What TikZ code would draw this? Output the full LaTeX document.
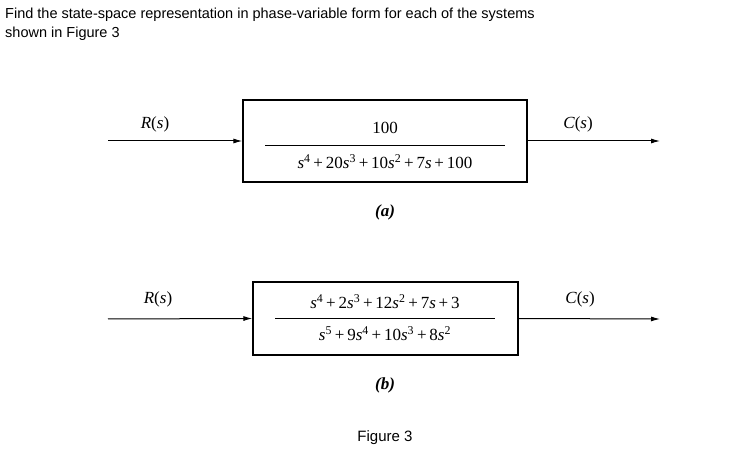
\documentclass[tikz,border=0pt]{standalone}
\usetikzlibrary{arrows.meta}
\usepackage{fontspec}
\setmainfont{Liberation Serif}
\newfontfamily\hdr{Liberation Sans}
\begin{document}
\begin{tikzpicture}[x=1pt,y=-1pt,
  blk/.style={draw,line width=1.2pt},
  sig/.style={line width=1pt,-{Latex[length=9pt,width=5pt]}},
  lbl/.style={font=\fontsize{17}{20}\selectfont},
  frac/.style={font=\fontsize{17}{20}\selectfont},
  figlabel/.style={font=\fontsize{17}{20}\selectfont\bfseries\itshape}]
\useasboundingbox (0,0) rectangle (748,454);
\node[anchor=north west,align=left,font=\hdr\fontsize{14.5}{19}\selectfont,inner sep=0] (hd) at (5,8) {Find the state-space representation in phase-variable form for each of the systems\\shown in Figure 3};
% (a)
\node[blk,minimum width=284pt,minimum height=82pt] (ba) at (385,141) {};
\coordinate (ia) at (108,141); \coordinate (oa) at (660,141);
\draw[sig] (ia) -- (ba.west);
\draw[sig] (ba.east) -- (oa);
\node[lbl] (ra) at (155,124) {\textit{R}(\textit{s})};
\node[lbl] (ca) at (578,124) {\textit{C}(\textit{s})};
\node[frac] (na) at (385,128) {100};
\draw[line width=0.8pt] (265,145) -- (505,145);
\node[frac] (da) at (385,162) {\textit{s}\textsuperscript{4}\,+\,20\textit{s}\textsuperscript{3}\,+\,10\textit{s}\textsuperscript{2}\,+\,7\textit{s}\,+\,100};
\node[figlabel] (la) at (385,212) {(a)};
% (b)
\node[blk,minimum width=265pt,minimum height=73pt] (bb) at (385.5,318.5) {};
\coordinate (ib) at (108,319); \coordinate (ob) at (660,319);
\draw[sig] (ib) -- (bb.west);
\draw[sig] (bb.east) -- (ob);
\node[lbl] (rb) at (158,299) {\textit{R}(\textit{s})};
\node[lbl] (cb) at (580,299) {\textit{C}(\textit{s})};
\node[frac] (nb) at (385,302) {\textit{s}\textsuperscript{4}\,+\,2\textit{s}\textsuperscript{3}\,+\,12\textit{s}\textsuperscript{2}\,+\,7\textit{s}\,+\,3};
\draw[line width=0.8pt] (275,318) -- (495,318);
\node[frac] (db) at (385,334) {\textit{s}\textsuperscript{5}\,+\,9\textit{s}\textsuperscript{4}\,+\,10\textit{s}\textsuperscript{3}\,+\,8\textit{s}\textsuperscript{2}};
\node[figlabel] (lb) at (385,385) {(b)};
\node[font=\hdr\fontsize{15}{18}\selectfont] (fg) at (385,438) {Figure 3};
\end{tikzpicture}
\end{document}
